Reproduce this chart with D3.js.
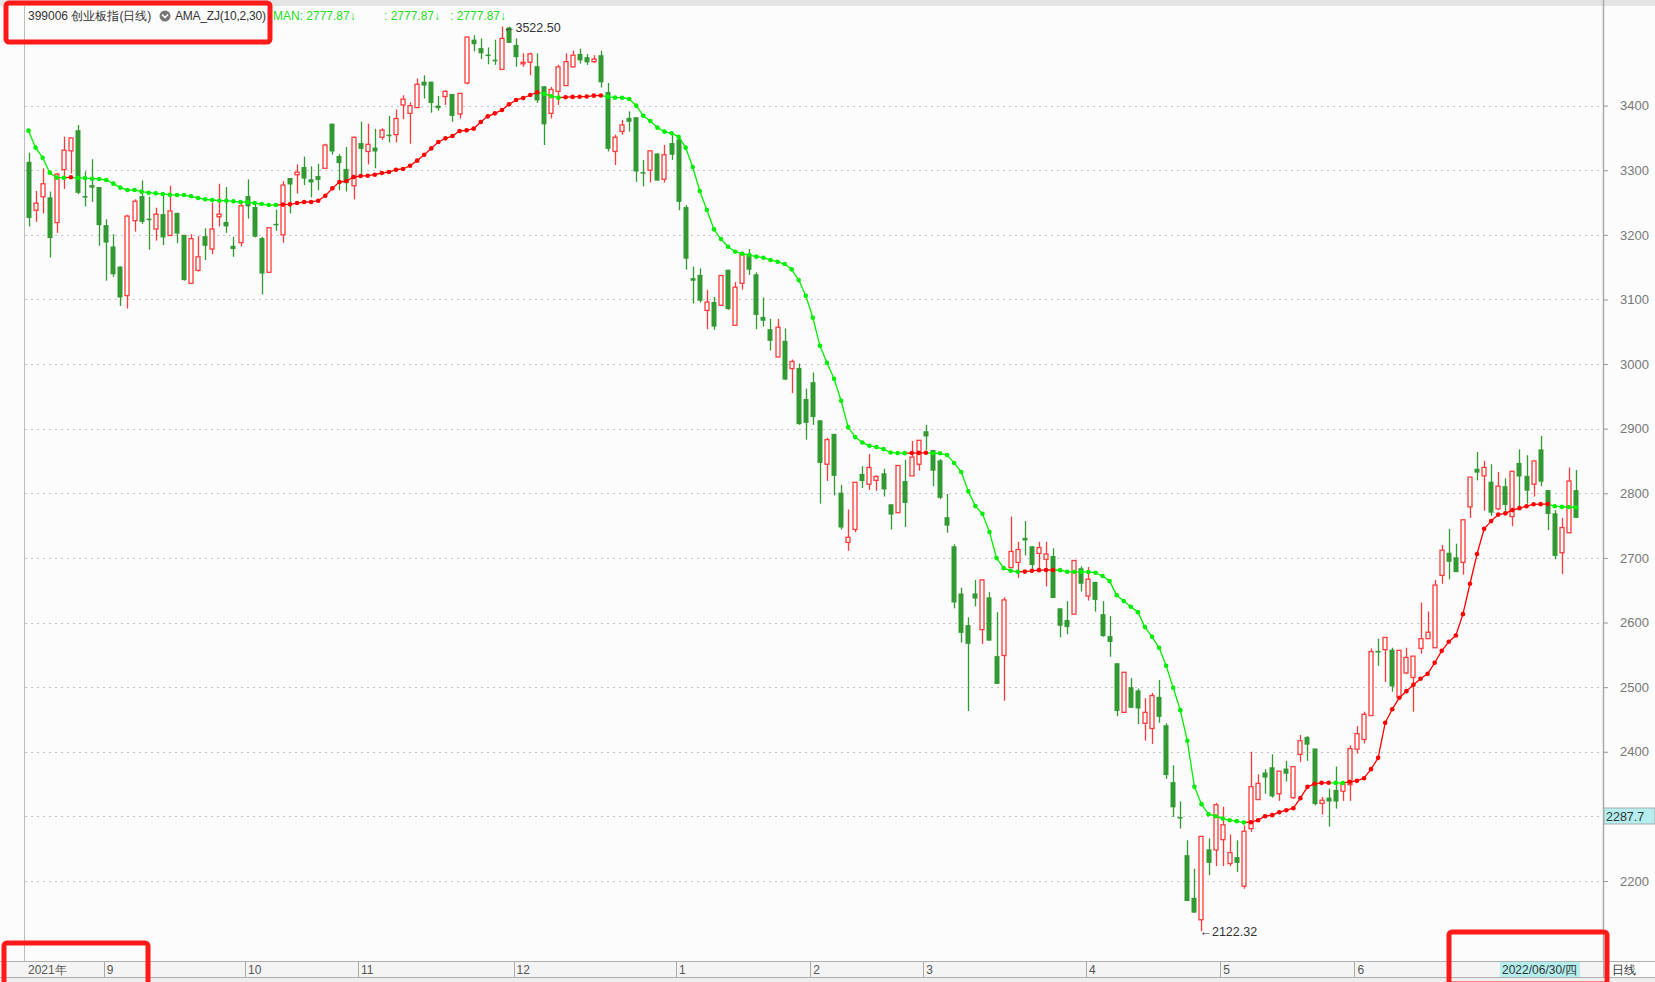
<!DOCTYPE html>
<html><head><meta charset="utf-8">
<script src="https://cdn.jsdelivr.net/npm/d3@7"></script>
<style>body{margin:0;background:#fcfcfc;overflow:hidden}svg{display:block}</style>
</head><body><svg id="c" width="1655" height="982"></svg>
<script>
const opens=[3313,3238,3259,3258,3219,3301,3330,3362,3260,3277,3274,3215,3182,3151,3106,3222,3260,3225,3209,3232,3199,3234,3200,3125,3145,3198,3178,3228,3220,3183,3188,3260,3243,3195,3142,3217,
3200,3288,3293,3305,3286,3291,3303,3372,3322,3302,3276,3342,3329,3335,3351,3355,3355,3401,3388,3397,3437,3437,3400,3414,3418,3387,3435,3502,3489,3479,3471,3456,3521,3494,3465,3467,3461,3430,3388,
3422,3431,3460,3480,3475,3468,3478,3421,3329,3360,3381,3382,3297,3300,3326,3286,3342,3348,3243,3133,3138,3083,3096,3091,3146,3060,3125,3170,3139,3073,3054,3011,
3036,2993,2994,2946,2972,2913,2845,2892,2801,2724,2744,2830,2814,2820,2831,2783,2770,2819,2827,2845,2896,2867,2851,2763,
2718,2645,2596,2645,2589,2639,2548,2549,2685,2693,2731,2718,2707,2698,2703,2622,2604,2613,2684,2641,2663,2613,2579,2537,2461,2500,2495,2444,2436,2485,2441,2353,2299,2240,2174,
2140,2249,2248,2264,2227,2237,2192,2281,2326,2368,2376,2335,2374,2329,2396,2423,2405,2320,2329,2341,2339,2349,2404,2419,2456,2556,2558,2558,2484,2522,2515,2560,2575,2561,2673,2708,
2701,2693,2779,2838,2827,2818,2776,2811,2764,2847,2827,2814,2868,2805,2769,2708,2739,2805];
const highs=[3327,3268,3303,3267,3296,3352,3350,3370,3298,3317,3274,3224,3201,3151,3231,3255,3284,3259,3242,3264,3276,3234,3200,3201,3198,3210,3250,3279,3274,3197,3249,3286,3249,3197,3211,3239,
3283,3288,3309,3321,3306,3310,3341,3372,3325,3336,3352,3375,3372,3364,3365,3384,3394,3416,3405,3442,3447,3437,3415,3424,3418,3419,3507,3509,3504,3490,3502,3522.5,3522,3504,3481,3482,3481,3430,3429,
3463,3481,3485,3488,3480,3478,3485,3435,3355,3378,3391,3382,3316,3330,3326,3339,3355,3352,3246,3151,3148,3115,3104,3138,3146,3127,3174,3178,3142,3103,3070,3070,
3055,3007,3001,2962,2987,2913,2886,2892,2813,2775,2817,2842,2861,2828,2838,2783,2843,2852,2881,2882,2906,2867,2853,2799,
2721,2654,2608,2666,2667,2647,2616,2639,2764,2725,2757,2718,2725,2725,2715,2622,2633,2696,2687,2686,2663,2633,2610,2537,2523,2514,2498,2483,2491,2511,2444,2379,2323,2263,2219,
2269,2266,2321,2315,2272,2263,2286,2400,2365,2373,2396,2370,2386,2377,2426,2424,2405,2330,2343,2377,2355,2410,2440,2462,2560,2575,2577,2561,2557,2561,2548,2631,2617,2666,2720,2745,
2722,2759,2825,2864,2850,2845,2833,2823,2834,2868,2859,2851,2889,2805,2774,2762,2840,2836];
const lows=[3213,3220,3233,3165,3203,3271,3295,3263,3244,3251,3183,3129,3135,3090,3086,3205,3217,3177,3191,3184,3198,3187,3129,3124,3143,3161,3170,3213,3203,3166,3182,3225,3196,3108,3141,3206,
3188,3233,3264,3277,3258,3269,3302,3324,3269,3267,3255,3290,3309,3303,3347,3343,3343,3379,3341,3396,3411,3389,3392,3401,3375,3380,3433,3484,3472,3464,3463,3455,3497,3460,3460,3447,3404,3339,3380,
3401,3431,3459,3465,3463,3466,3428,3329,3308,3355,3360,3282,3275,3281,3284,3281,3316,3238,3146,3094,3095,3054,3053,3090,3084,3059,3115,3138,3054,3058,3021,3011,
2975,2955,2906,2883,2906,2784,2819,2797,2744,2711,2740,2808,2805,2804,2795,2744,2770,2748,2827,2835,2867,2811,2791,2739,
2622,2569,2463,2625,2567,2572,2505,2479,2685,2669,2704,2681,2684,2656,2638,2577,2582,2613,2648,2634,2617,2578,2547,2455,2461,2468,2443,2417,2412,2445,2358,2299,2281,2169,2151,
2122.32,2209,2223,2223,2223,2214,2188,2276,2326,2335,2329,2324,2354,2327,2384,2386,2317,2303,2284,2312,2324,2324,2397,2413,2456,2533,2508,2493,2484,2520,2462,2552,2575,2561,2660,2667,
2678,2674,2762,2820,2773,2765,2774,2771,2749,2779,2784,2795,2811,2743,2698,2675,2738,2762];
const closes=[3226,3249,3279,3195,3294,3331,3350,3265,3258,3273,3215,3188,3139,3103,3229,3252,3220,3224,3232,3196,3237,3202,3130,3194,3166,3183,3209,3232,3213,3178,3245,3244,3197,3140,3211,3216,
3277,3278,3297,3287,3281,3285,3339,3329,3311,3280,3351,3333,3340,3329,3362,3354,3380,3410,3400,3433,3431,3404,3396,3422,3384,3419,3506,3495,3481,3477,3470,3504,3497,3475,3467,3480,3408,3371,3425,
3460,3468,3478,3470,3467,3472,3436,3333,3351,3370,3375,3298,3295,3330,3284,3324,3324,3251,3163,3129,3098,3096,3058,3137,3085,3119,3170,3146,3076,3067,3036,3057,
2976,3004,2907,2909,2918,2847,2883,2827,2747,2732,2817,2819,2840,2826,2806,2767,2843,2785,2856,2882,2888,2835,2793,2750,
2631,2584,2567,2637,2666,2572,2505,2635,2710,2713,2727,2689,2716,2706,2638,2595,2593,2696,2660,2667,2635,2579,2570,2463,2523,2468,2467,2461,2487,2454,2364,2314,2298,2169,2151,
2269,2228,2318,2287,2244,2228,2277,2346,2351,2360,2331,2370,2366,2377,2417,2411,2319,2325,2323,2323,2350,2405,2428,2458,2555,2555,2577,2501,2557,2546,2548,2575,2585,2658,2712,2694,
2678,2759,2825,2832,2840,2770,2811,2782,2834,2826,2804,2850,2818,2768,2703,2747,2819,2762];
const ama=[3361.2,3334.9,3319.4,3296.2,3288.5,3288.4,3289.0,3287.9,3287.9,3286.9,3286.4,3284.8,3279.2,3273.0,3269.4,3269.4,3266.8,3265.2,3264.2,3263.2,3262.1,3261.6,3261.6,3259.6,3257.0,3254.9,3253.9,3252.8,3252.8,3251.8,3250.8,3250.8,3249.2,3247.7,3246.1,3246.1,
3246.8,3247.2,3249.2,3250.8,3250.9,3252.8,3260.6,3271.9,3281.7,3283.3,3289.5,3291.0,3291.5,3293.1,3295.7,3297.2,3300.8,3301.9,3307.0,3314.8,3324.0,3333.8,3343.7,3349.3,3352.9,3360.7,3361.7,3364.3,3374.6,3383.4,3388.0,3393.2,3401.9,3408.7,3411.8,3416.4,3420.5,3418,3414.5,
3412.3,3413.0,3413.5,3413.8,3414.0,3415.4,3415.6,3413.8,3412.3,3412.2,3410.2,3399.9,3384.4,3376.2,3365.9,3359.7,3357.1,3351.9,3334.9,3304.9,3267.8,3238.4,3208.5,3193.5,3181.6,3173.9,3170.8,3168.7,3166.2,3164.6,3161.0,3158.4,
3154.8,3146.6,3130.0,3105.8,3071.7,3028.4,3002.0,2977.3,2943.2,2902.4,2887.0,2878.7,2873.5,2871.5,2868.4,2863.2,2862.2,2862.1,2862.3,2862.5,2862.7,2862.0,2861.9,2859.1,
2847,2833,2803,2780.2,2768.3,2740.0,2699.7,2684.2,2680.1,2678.6,2678.8,2680.1,2681.1,2681.2,2681.3,2681.1,2678.6,2678.5,2678.4,2678.3,2677.0,2671.9,2664.1,2642.4,2633.2,2624.4,2616.1,2592.9,2577.9,2560.9,2533.0,2499.0,2464.4,2417.0,2345.7,
2318.9,2303.4,2300.3,2296.7,2294.1,2292.6,2290.5,2291.0,2294.1,2300.3,2301.9,2306.5,2309.6,2312.7,2328.2,2345.7,2350.4,2351.9,2352.0,2351.8,2351.7,2353.5,2355.0,2359.1,2373.1,2390.6,2444.8,2465.9,2483.5,2493.8,2503.6,2512.9,2520.6,2537.7,2556.2,2570.2,
2580,2613,2660,2706,2745,2757,2767,2769,2774,2777,2780,2783,2783.2,2783.4,2780,2779,2778.8,2778];
const gridTicks=[2200,2300,2400,2500,2600,2700,2800,2900,3000,3100,3200,3300,3400];
const priceLabels=[2200,2400,2500,2600,2700,2800,2900,3000,3100,3200,3300,3400];
const monthIdx=[11,31,47,69,92,111,127,150,169,188];
const monthLabels=["9","10","11","12","1","2","3","4","5","6"];

const N=closes.length;
const svg=d3.select("#c");
const F="'Liberation Sans',Arial,sans-serif";
const x=d3.scaleBand().domain(d3.range(N)).range([24,24+7.075*N]).padding(0.28);
const cx=i=>x(i)+x.bandwidth()/2;
const y=d3.scaleLinear().domain([2200,3400]).range([881,105.6]);
const RED="#ff3b3b",GRN="#339933";

svg.append("rect").attr("x",0).attr("y",0).attr("width",1655).attr("height",6).attr("fill","#e4e4e4");
svg.append("line").attr("x1",24.5).attr("x2",24.5).attr("y1",6).attr("y2",961).attr("stroke","#bdbdbd");
svg.append("line").attr("x1",1603.5).attr("x2",1603.5).attr("y1",0).attr("y2",982).attr("stroke","#aaa").attr("stroke-width",1.5);
svg.append("g").selectAll("line").data(gridTicks).join("line")
 .attr("x1",25).attr("x2",1603).attr("y1",d=>Math.round(y(d))+0.5).attr("y2",d=>Math.round(y(d))+0.5)
 .attr("stroke","#c4c4c4").attr("stroke-dasharray","2,4");
const ax=svg.append("g").attr("transform","translate(1603,0)")
 .call(d3.axisRight(y).tickValues(priceLabels).tickSize(5).tickPadding(12).tickFormat(d3.format("d")));
ax.select(".domain").remove();
ax.selectAll("line").attr("stroke","#999");
ax.selectAll("text").attr("fill","#777").attr("font-size",13).attr("font-family",F);
svg.append("rect").attr("x",1604).attr("y",808).attr("width",51).attr("height",16).attr("fill","#b4eeee").attr("stroke","#aaa");
svg.append("text").attr("x",1606).attr("y",821).text("2287.7").attr("font-size",12.5).attr("fill","#333").attr("font-family",F);

const g=svg.append("g");
const up=i=>closes[i]>=opens[i];
g.selectAll("line.w").data(d3.range(N)).join("line")
 .attr("x1",i=>Math.round(cx(i))+0.5).attr("x2",i=>Math.round(cx(i))+0.5)
 .attr("y1",i=>y(highs[i])).attr("y2",i=>y(lows[i]))
 .attr("stroke",i=>up(i)?RED:GRN).attr("stroke-width",1.3);
g.selectAll("rect.b").data(d3.range(N)).join("rect")
 .attr("x",i=>Math.round(cx(i))-2.5+0.5*(up(i)?1:0)).attr("width",i=>up(i)?4:5)
 .attr("y",i=>y(Math.max(opens[i],closes[i])))
 .attr("height",i=>Math.max(1.5,Math.abs(y(opens[i])-y(closes[i]))))
 .attr("fill",i=>up(i)?"#fcfcfc":GRN).attr("stroke",i=>up(i)?RED:"none").attr("stroke-width",1.3);

const col=i=>i>0&&ama[i]>ama[i-1]?"#ff0000":"#00ee00";
svg.append("g").selectAll("line").data(d3.range(1,N)).join("line")
 .attr("x1",i=>cx(i-1)).attr("x2",i=>cx(i)).attr("y1",i=>y(ama[i-1])).attr("y2",i=>y(ama[i]))
 .attr("stroke",col).attr("stroke-width",1.3);
svg.append("g").selectAll("circle").data(d3.range(N)).join("circle")
 .attr("cx",cx).attr("cy",i=>y(ama[i])).attr("r",2.3).attr("fill",col);

const hi=d3.maxIndex(highs),lo=d3.minIndex(lows);
svg.append("text").attr("x",cx(hi)+1).attr("y",y(highs[hi])+6).text("←3522.50").attr("font-size",12.5).attr("fill","#333").attr("font-family",F);
svg.append("text").attr("x",cx(lo)-2).attr("y",y(lows[lo])+5).text("←2122.32").attr("font-size",12.5).attr("fill","#333").attr("font-family",F);

svg.append("rect").attr("x",0).attr("y",961).attr("width",1603).attr("height",16).attr("fill","#f4f4f4");
svg.append("line").attr("x1",0).attr("x2",1655).attr("y1",961.5).attr("y2",961.5).attr("stroke","#b0b0b0");
svg.append("line").attr("x1",0).attr("x2",1655).attr("y1",977.5).attr("y2",977.5).attr("stroke","#b0b0b0");
svg.append("rect").attr("x",0).attr("y",978).attr("width",1655).attr("height",4).attr("fill","#eeeeee");
svg.append("g").selectAll("line").data(monthIdx).join("line")
 .attr("x1",i=>Math.round(x(i))+0.5).attr("x2",i=>Math.round(x(i))+0.5).attr("y1",962).attr("y2",977).attr("stroke","#aaa");
svg.append("g").selectAll("text").data(monthIdx).join("text")
 .attr("x",i=>x(i)+3).attr("y",974).text((d,k)=>monthLabels[k]).attr("font-size",12).attr("fill","#555").attr("font-family",F);
svg.append("text").attr("x",28).attr("y",974).text("2021年").attr("font-size",12).attr("fill","#555").attr("font-family",F);
svg.append("rect").attr("x",1500).attr("y",962).attr("width",80).attr("height",15).attr("fill","#b4eeee");
svg.append("text").attr("x",1502).attr("y",974).text("2022/06/30/四").attr("font-size",12).attr("fill","#333").attr("font-family",F);
svg.append("text").attr("x",1612).attr("y",974).text("日线").attr("font-size",12).attr("fill","#333").attr("font-family",F);

const hdr=svg.append("g").attr("font-family",F).attr("font-size",12);
hdr.append("text").attr("x",28).attr("y",20).text("399006 创业板指(日线)").attr("fill","#333");
hdr.append("circle").attr("cx",165).attr("cy",16).attr("r",5.5).attr("fill","#777");
hdr.append("path").attr("d","M162,14.5 L165,17.5 L168,14.5").attr("stroke","#fff").attr("fill","none").attr("stroke-width",1.5);
hdr.append("text").attr("x",175).attr("y",20).text("AMA_ZJ(10,2,30)").attr("fill","#333").attr("textLength",91);
hdr.append("text").attr("x",273).attr("y",20).text("MAN: 2777.87↓").attr("fill","#22dd22");
hdr.append("text").attr("x",384).attr("y",20).text(": 2777.87↓").attr("fill","#22dd22");
hdr.append("text").attr("x",450).attr("y",20).text(": 2777.87↓").attr("fill","#22dd22");

const box=(x0,y0,w,h)=>svg.append("rect").attr("x",x0).attr("y",y0).attr("width",w).attr("height",h).attr("rx",3)
 .attr("fill","none").attr("stroke","#ff1a1a").attr("stroke-width",5);
box(6,3,264,39); box(4,943,144,42); box(1449,932,158,52);
</script></body></html>
